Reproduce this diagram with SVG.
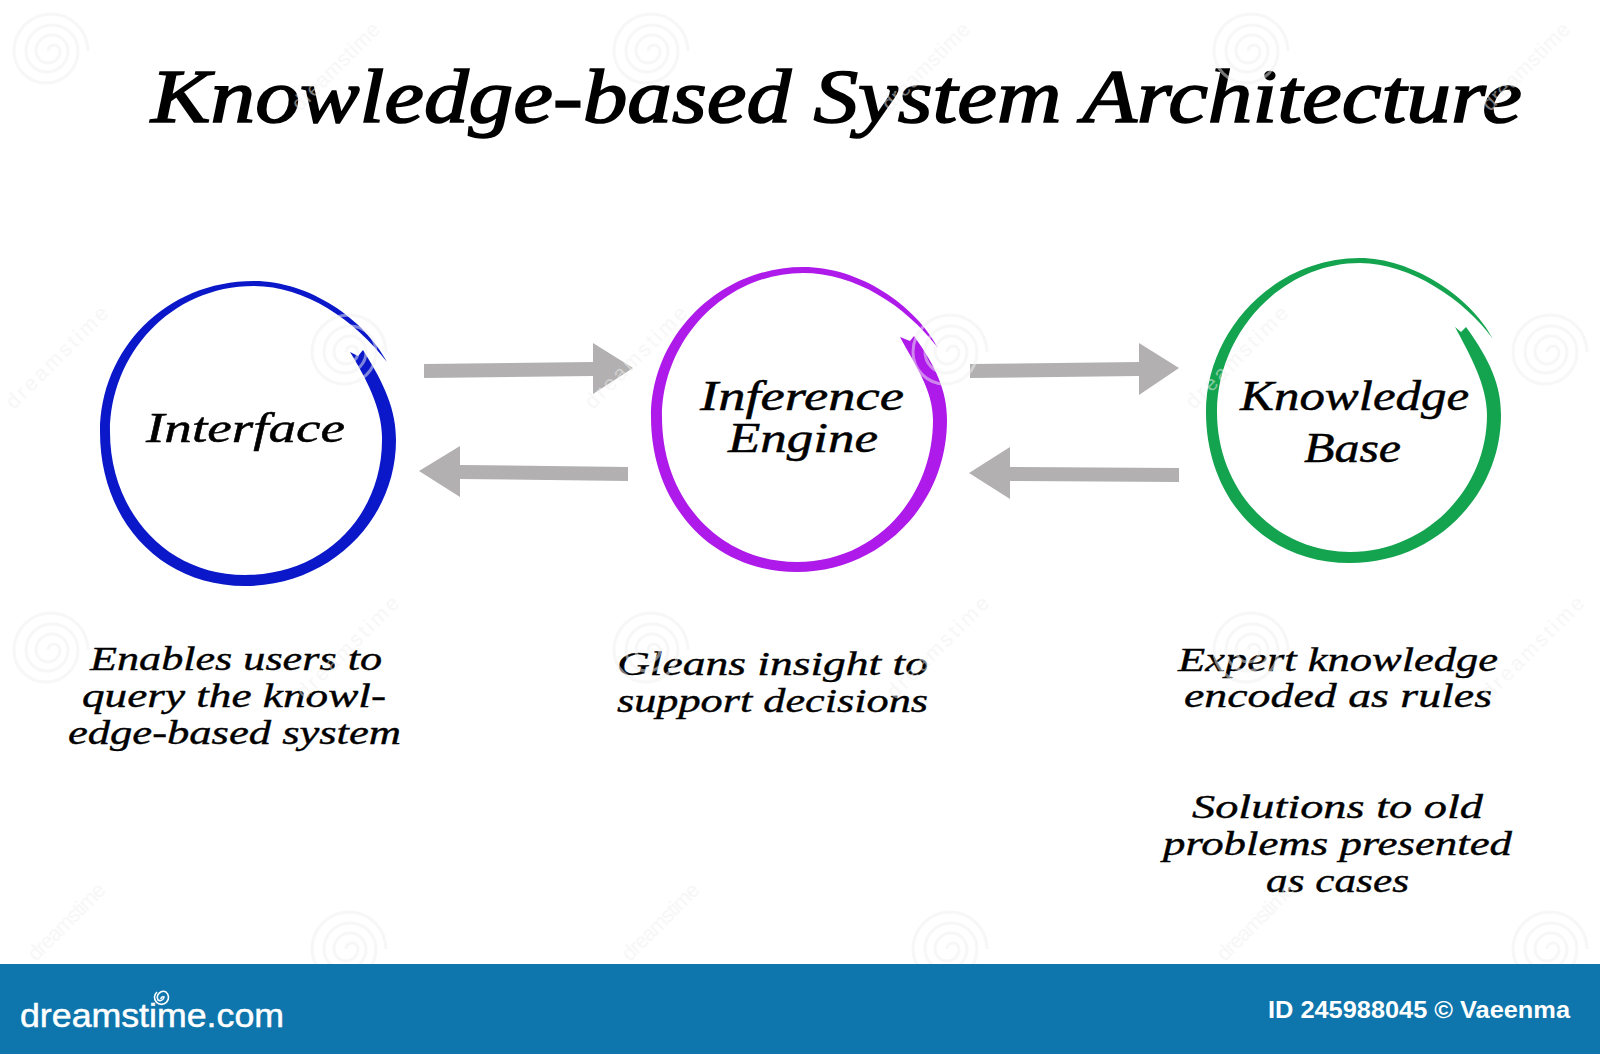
<svg xmlns="http://www.w3.org/2000/svg" xmlns:xlink="http://www.w3.org/1999/xlink" width="1600" height="1054" viewBox="0 0 1600 1054">
<style>
text{font-family:"Liberation Serif","Noto Sans",serif;font-style:italic;fill:#000}
.title{font-size:76px;stroke:#000;stroke-width:1.6px}
.label{font-size:42px;stroke:#000;stroke-width:.5px}
.desc{font-size:34px;stroke:#000;stroke-width:.4px}
.arrow{fill:#b2b0b1;stroke:none}
.foot{font-family:"Liberation Sans",Arial,sans-serif;font-style:normal;fill:#fff;font-weight:700}
.mark{font-family:"Liberation Sans",Arial,sans-serif;font-style:normal;font-size:21px;fill:#f0f0f0;opacity:.5}
.spiral{fill:none;stroke:#f0f0f0;stroke-width:3;opacity:.5}
</style>
<defs>
<path id="sp" class="spiral" d="M-2,0A6,6 0 0 1 10,0A12,12 0 0 1-14,0A16,16 0 0 1 18,0A21,21 0 0 1-24,0A26,26 0 0 1 28,0A32,32 0 0 1-36,0A37,37 0 0 1 38,0"/>
</defs>
<rect width="1600" height="1054" fill="#fff"/>
<text id="title" class="title" x="151" y="122" textLength="1371" lengthAdjust="spacingAndGlyphs">Knowledge-based System Architecture</text>
<g id="connectors">
<path class="arrow" d="M424,364L593,362V343L633,368L593,394V376L424,378Z"/>
<path class="arrow" d="M628,467L460,465V446L419,471L460,497V479L628,481Z"/>
<path class="arrow" d="M970,364L1139,362V343L1179,368L1139,395V376L970,378Z"/>
<path class="arrow" d="M1179,468L1010,467V447L969,473L1010,499V481L1179,482Z"/>
</g>
<g id="interface">
<path fill="#0b18c9" d="M387,362C365,320 310,281 254,281C165,281 100,350 100,432C100,520 160,586 245,586C330,586 396,520 396,440C396,410 385,385 363,350L358,356L350,352C366,378 383,410 382,440C382,515 325,575 245,575C165,575 110,510 110,432C110,355 170,286 254,286C305,286 355,320 387,362Z"/>
<text class="label" x="146" y="442" textLength="199" lengthAdjust="spacingAndGlyphs">Interface</text>
</g>
<g id="inference-engine">
<path fill="#ae1aea" d="M938,348C915,305 860,267 803,267C720,267 651,335 651,417C651,505 712,572 797,572C880,572 947,505 947,420C947,390 935,365 914,336L910,341L900,337C915,365 933,390 933,420C933,498 875,562 797,562C720,562 662,500 662,417C662,340 725,273 803,273C855,273 905,305 938,348Z"/>
<text class="label" x="700" y="410" textLength="204" lengthAdjust="spacingAndGlyphs">Inference</text>
<text class="label" x="728" y="452" textLength="150" lengthAdjust="spacingAndGlyphs">Engine</text>
</g>
<g id="knowledge-base">
<path fill="#14a44f" d="M1493,339C1470,295 1410,258 1360,258C1275,258 1206,330 1206,412C1206,498 1265,563 1350,563C1435,563 1501,495 1501,415C1501,385 1490,360 1466,327L1461,332L1455,327C1470,355 1487,385 1487,415C1487,490 1425,552 1350,552C1275,552 1217,490 1217,412C1217,335 1280,263 1360,263C1410,263 1465,300 1493,339Z"/>
<text class="label" x="1240" y="410" textLength="229" lengthAdjust="spacingAndGlyphs">Knowledge</text>
<text class="label" x="1304" y="462" textLength="97" lengthAdjust="spacingAndGlyphs">Base</text>
</g>
<g id="descriptions">
<text class="desc" x="90" y="670" textLength="292" lengthAdjust="spacingAndGlyphs">Enables users to</text>
<text class="desc" x="82" y="707" textLength="304" lengthAdjust="spacingAndGlyphs">query the knowl-</text>
<text class="desc" x="68" y="744" textLength="333" lengthAdjust="spacingAndGlyphs">edge-based system</text>
<text class="desc" x="617" y="675" textLength="311" lengthAdjust="spacingAndGlyphs">Gleans insight to</text>
<text class="desc" x="617" y="712" textLength="311" lengthAdjust="spacingAndGlyphs">support decisions</text>
<text class="desc" x="1178" y="671" textLength="320" lengthAdjust="spacingAndGlyphs">Expert knowledge</text>
<text class="desc" x="1184" y="707" textLength="308" lengthAdjust="spacingAndGlyphs">encoded as rules</text>
<text class="desc" x="1192" y="818" textLength="291" lengthAdjust="spacingAndGlyphs">Solutions to old</text>
<text class="desc" x="1163" y="855" textLength="349" lengthAdjust="spacingAndGlyphs">problems presented</text>
<text class="desc" x="1266" y="892" textLength="143" lengthAdjust="spacingAndGlyphs">as cases</text>
</g>
<g id="watermark">
<use xlink:href="#sp" href="#sp" x="50" y="51"/><use xlink:href="#sp" href="#sp" x="650" y="51"/><use xlink:href="#sp" href="#sp" x="1250" y="51"/>
<use xlink:href="#sp" href="#sp" x="348" y="352"/><use xlink:href="#sp" href="#sp" x="949" y="352"/><use xlink:href="#sp" href="#sp" x="1549" y="352"/>
<use xlink:href="#sp" href="#sp" x="50" y="650"/><use xlink:href="#sp" href="#sp" x="650" y="650"/><use xlink:href="#sp" href="#sp" x="1250" y="650"/>
<use xlink:href="#sp" href="#sp" x="348" y="949"/><use xlink:href="#sp" href="#sp" x="949" y="949"/><use xlink:href="#sp" href="#sp" x="1549" y="949"/>
<text class="mark" transform="translate(14,410) rotate(-45)" textLength="135">dreamstime</text>
<text class="mark" transform="translate(593,410) rotate(-45)" textLength="135">dreamstime</text>
<text class="mark" transform="translate(1194,410) rotate(-45)" textLength="135">dreamstime</text>
<text class="mark" transform="translate(300,112) rotate(-45)" textLength="115">dreamstime</text>
<text class="mark" transform="translate(890,112) rotate(-45)" textLength="115">dreamstime</text>
<text class="mark" transform="translate(1490,112) rotate(-45)" textLength="115">dreamstime</text>
<text class="mark" transform="translate(305,700) rotate(-45)" textLength="135">dreamstime</text>
<text class="mark" transform="translate(895,700) rotate(-45)" textLength="135">dreamstime</text>
<text class="mark" transform="translate(1490,700) rotate(-45)" textLength="135">dreamstime</text>
<text class="mark" transform="translate(36,962) rotate(-45)" textLength="100">dreamstime</text>
<text class="mark" transform="translate(630,962) rotate(-45)" textLength="100">dreamstime</text>
<text class="mark" transform="translate(1225,962) rotate(-45)" textLength="100">dreamstime</text>
</g>
<g id="footer">
<rect y="964" width="1600" height="90" fill="#0e76ad"/>
<text class="foot" x="20" y="1027" font-size="34" textLength="264" lengthAdjust="spacingAndGlyphs" style="font-weight:400;stroke:#fff;stroke-width:.5px">dreamstime.com</text>
<path d="M161,999a2,2 0 0 1 3,-2a4,4 0 0 1-6,3a6,6 0 0 1 8,-8a7,7 0 1 1-9,0" fill="none" stroke="#fff" stroke-width="1.6"/>
<text class="foot" x="1268" y="1018" font-size="24" textLength="302" lengthAdjust="spacingAndGlyphs">ID 245988045 © Vaeenma</text>
</g>
</svg>
